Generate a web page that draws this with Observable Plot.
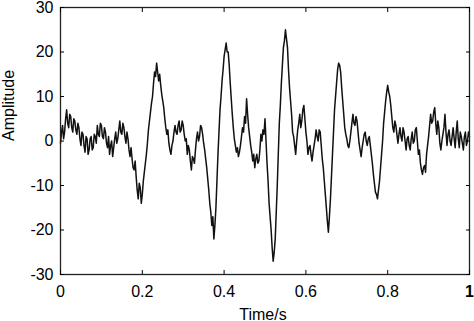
<!DOCTYPE html>
<html>
<head>
<meta charset="utf-8">
<script src="https://cdn.jsdelivr.net/npm/d3@7"></script>
<script src="https://cdn.jsdelivr.net/npm/@observablehq/plot@0.6"></script>
<style>
  html, body { margin: 0; padding: 0; background: #fff; }
  #chart { width: 474px; height: 321px; }
</style>
</head>
<body>
<div id="chart"></div>
<script>
// Sampling interval of the recorded signal (s)
const sampleStep = 0.0025;
// Amplitude values (one per 0.0025 s, 0 .. 1 s)
const amplitude = [
  -0.5, 2, 3.5, 0.5, 2, 5, 7, 4, 3, 6, 5.5, 3, 2, 5, 4.5, 2.5, 1.5, 4, 3, 0.5,
  -1, 2, 1.5, -1, -2.5, 1, 0.5, -3, -2, 0.5, 1, -2, -1.5, 1.5, 1, -0.5, 3.5, 1.5, 1, 4,
  3.5, 1, 0.5, 3, 2, -0.5, -1.5, 1, -3, -1, 0, -3.5, -1.5, 0.5, 2, -0.5, 0.5, 2.5, 4.5, 2,
  1.5, 4, 3, 1, -0.5, 2, 0.5, -2, -3.5, -1.5, -4, -6, -6.5, -4.5, -8, -11, -13, -9.5, -10.5, -14,
  -12, -9, -7, -5, -3, -0.5, 2.5, 4.5, 6.5, 8.5, 10, 13, 15.5, 14.5, 17.5, 15.5, 13.5, 15, 12.5, 10.5,
  9, 7.5, 5, 3, 1.5, 2.5, -0.5, -2, -3, -1, 0, 2, 3.5, 2, 1.5, 3.5, 4.5, 2, 2.5, 4.5,
  3.5, 1.5, 0, 0.5, -3, -1, -2, -4.5, -6.5, -3.5, -4, -5, -2, 0.5, 2, 0, 1, 3.5, 3, 1.5,
  -0.5, -2, -4, -6, -8.5, -11, -14, -16, -19, -17, -22, -19, -15, -9, -3, 2, 7, 10, 13.5, 16,
  19, 20.5, 22, 20, 20, 17, 13, 9.5, 6, 3, 0.5, -1, -2.5, -1.5, -3.5, -2.5, -1, 1, 3, 2,
  5.5, 4, 9.5, 6, 3, 1, -1, -2.5, -4.5, -3, -6, -4, -3, -5, -4.5, -2, 1.5, 0, 2.5, 1.5,
  5, 0, -5, -9, -14, -17, -20, -24, -27, -25, -22, -16, -10, -3, 4, 8, 13, 17, 21, 22.5,
  25, 23, 21, 16, 12, 9, 6, 2, 1, -1, -3, 0, 2.5, 4, 6, 3, 4.5, 7, 8, 5,
  2, 0, -3, -1.5, -1, -3, -4.5, -2.5, -1, 0.5, 2.5, 1, 0, 2.5, 2, -1, -4, -6, -9, -12,
  -15, -18, -20.5, -17, -13, -8, -3, 2, 7, 10, 13, 16, 17.5, 17, 15.5, 12, 9, 6, 3, 1.5,
  0.5, -1, -1.5, 0, 2, 4, 6, 4, 3.5, 5.5, 4.5, 2, -0.5, -2, -3.5, -1.5, 0, 1.5, 2, 0,
  -1, 0.5, 1, -1, -3, -5, -7.5, -9.5, -11.5, -12, -13, -11, -9, -6, -3, 0, 4, 6.5, 9, 11,
  12.5, 11, 10, 8, 5.5, 3, 2, 4.5, 3.5, 1.5, -0.5, 1.5, 3, 1, 0, 3, 2, 0, -2, 0.5,
  1, -1, -2, 0.5, 2, -0.5, 0, 2.5, 3, 0, -3, -2, -5, -6.5, -7.5, -6, -5.5, -7, -3, -1,
  1, 3.5, 6, 4, 4.5, 6.5, 7.5, 4, 1.5, 4.5, 3, -0.5, -2, 0, 1.5, 3, 6, 2, -1, 1.5,
  2.5, 0, -1, 1, 3, 0.5, -1.5, 2, 4.5, 0.5, -1.5, 2, 1, -0.5, -2, 1, 2, -1, 0, 2,
  1
];
const time = amplitude.map((_, i) => i * sampleStep);

// Axis ticks
const xTicks = [0, 0.2, 0.4, 0.6, 0.8];
const xTickLast = [1];
const yTicks = [-30, -20, -10, 0, 10, 20, 30];
const xLabel = "Time/s";
const yLabel = "Amplitude";

const data = time.map((t, i) => ({t, a: amplitude[i]}));

const chart = Plot.plot({
  width: 474,
  height: 321,
  marginLeft: 60,
  marginRight: 5,
  marginTop: 7,
  marginBottom: 47,
  style: {fontFamily: "'Liberation Sans', Arial, sans-serif", fontSize: "16px", color: "#000", background: "#fff", overflow: "visible"},
  x: {domain: [0, 1]},
  y: {domain: [-30, 30]},
  marks: [
    Plot.line(data, {x: "t", y: "a", stroke: "#111", strokeWidth: 1.5}),
    Plot.frame({stroke: "#222", strokeWidth: 1.3}),
    // inward ticks
    Plot.axisX(xTicks.concat(xTickLast), {anchor: "bottom", tickSize: -4, tickFormat: () => "", label: null}),
    Plot.axisX(xTicks.concat(xTickLast), {anchor: "top", tickSize: -4, tickFormat: () => "", label: null}),
    Plot.axisY(yTicks, {anchor: "left", tickSize: -4, tickFormat: () => "", label: null}),
    Plot.axisY(yTicks, {anchor: "right", tickSize: -4, tickFormat: () => "", label: null}),
    // tick labels
    Plot.axisX(xTicks, {anchor: "bottom", tickSize: 0, tickPadding: 11, label: null, fontSize: 16, tickFormat: d => String(d)}),
    Plot.axisX(xTickLast, {anchor: "bottom", tickSize: 0, tickPadding: 11, label: null, fontSize: 16, fontWeight: "bold", tickFormat: d => String(d)}),
    Plot.axisY(yTicks, {anchor: "left", tickSize: 0, tickPadding: 7, label: null, fontSize: 16, tickFormat: d => String(d)}),
    // axis titles
    Plot.text([xLabel], {frameAnchor: "bottom", dx: -2, dy: 45, lineAnchor: "bottom", fontSize: 16, fill: "#000"}),
    Plot.text([yLabel], {frameAnchor: "left", dx: -47, rotate: -90, lineAnchor: "bottom", fontSize: 16, fill: "#000"})
  ]
});
document.getElementById("chart").appendChild(chart);
</script>
</body>
</html>
